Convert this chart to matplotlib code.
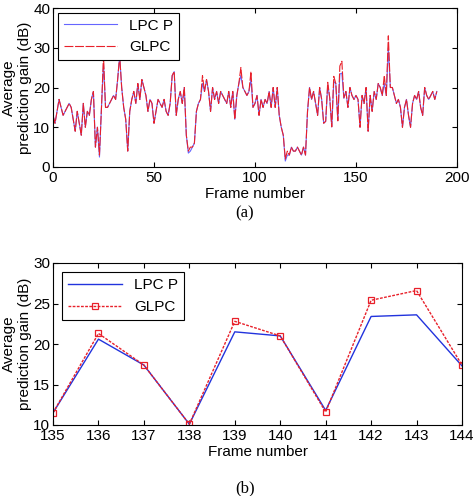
import numpy as np
import matplotlib
matplotlib.use("Agg")
import matplotlib.pyplot as plt

plt.rcParams['font.family'] = ['Liberation Sans', 'DejaVu Sans']

# per-frame average prediction gain (dB)
glpc = [13, 11, 14, 17, 15, 13, 14, 15, 16, 15, 12, 9, 14, 11, 8, 16, 10, 14,
        13, 17, 19, 5, 10, 3, 15, 28, 15, 15, 16, 17, 18, 17, 22, 28, 20, 15, 12, 4,
        14, 17, 19, 16, 21, 17, 22, 20, 18, 14, 17, 16, 11, 14, 17, 16, 15, 17, 14, 13,
        16, 23, 24, 13, 17, 19, 16, 20, 8, 4, 5, 5, 6, 14, 16, 17, 23, 19, 22, 19,
        14, 20, 17, 19, 16, 19, 18, 17, 16, 19, 15, 19, 12, 18, 21, 25, 20, 19, 18, 19,
        24, 15, 16, 18, 13, 17, 15, 17, 16, 19, 15, 20, 15, 20, 13, 10, 8, 2, 4, 3,
        5, 4, 4, 5, 4, 3, 5, 3, 14, 20, 17, 19, 16, 13, 20, 17, 11,
        11.5, 21.3, 17.4, 10.1, 22.8, 21.0, 11.6, 25.4, 26.6, 17.4,
        19, 15, 20, 18, 17, 18, 17, 10, 18, 16, 20, 9, 18, 14, 19, 17, 21, 20, 18, 23,
        18, 33, 20, 20, 18, 16, 17, 15, 10, 15, 17, 13, 10, 16, 18, 17, 19, 15, 13, 20,
        18, 17, 18, 19, 17, 19]
lpc_changes = {23: 2.5, 25: 26, 67: 3.5, 68: 4, 74: 21, 93: 23, 98: 22, 115: 1.5,
               116: 3, 164: 21, 166: 30,
               136: 20.6, 139: 21.5, 141: 11.8, 142: 23.4, 143: 23.6, 144: 17.3}
lpc = list(glpc)
for k, v in lpc_changes.items():
    lpc[k] = v
frames = np.arange(len(glpc))

# zoomed frames 135..144
zoom_frames = np.arange(135, 145)
zoom_lpc = [11.5, 20.6, 17.4, 10.1, 21.5, 21.0, 11.8, 23.4, 23.6, 17.3]
zoom_glpc = [11.5, 21.3, 17.4, 10.1, 22.8, 21.0, 11.6, 25.4, 26.6, 17.4]

fig = plt.figure(figsize=(4.74, 4.96), dpi=100)
W, H = 474, 496

ax1 = fig.add_axes([53 / W, 1 - 167 / H, 404 / W, 159 / H])
ax1.plot(frames, lpc, color='#6666ff', lw=0.8, label='LPC P')
ax1.plot(frames, glpc, color='#e8202a', lw=0.8, dashes=(8, 1.5), label='GLPC')
ax1.set_xlim(0, 200)
ax1.set_ylim(0, 40)
ax1.set_xticks([0, 50, 100, 150, 200])
ax1.set_yticks([0, 10, 20, 30, 40])
ax1.set_xlabel('Frame number', fontsize=11, labelpad=1)
ax1.set_ylabel('Average\nprediction gain (dB)', fontsize=11, labelpad=1)
leg = ax1.legend(loc='upper left', fontsize=11, fancybox=False, framealpha=1,
                 edgecolor='black', handlelength=3.5, borderaxespad=0.3)
leg.get_frame().set_linewidth(0.8)

ax2 = fig.add_axes([53 / W, 1 - 425 / H, 409 / W, 162 / H])
ax2.plot(zoom_frames, zoom_lpc, color='#2233dd', lw=1.0, label='LPC P')
ax2.plot(zoom_frames, zoom_glpc, color='#e8202a', lw=1.0, ls=(0, (2, 1)),
         marker='s', ms=4, mfc='none', mew=0.9, label='GLPC')
ax2.set_xlim(135, 144)
ax2.set_ylim(10, 30)
ax2.set_xticks(zoom_frames)
ax2.set_yticks([10, 15, 20, 25, 30])
ax2.set_xlabel('Frame number', fontsize=11, labelpad=1)
ax2.set_ylabel('Average\nprediction gain (dB)', fontsize=11, labelpad=1)
leg = ax2.legend(loc='upper left', fontsize=11, fancybox=False, framealpha=1,
                 edgecolor='black', handlelength=3.5, borderaxespad=0.6)
leg.get_frame().set_linewidth(0.8)

for ax in (ax1, ax2):
    ax.tick_params(direction='in', top=True, right=True, labelsize=11, pad=2)
    ax.tick_params(axis='x', pad=3)

fig.text(245 / W, 1 - 213 / H, '(a)', ha='center', va='center', fontsize=12,
         family='Liberation Serif')
fig.text(245 / W, 1 - 488 / H, '(b)', ha='center', va='center', fontsize=12,
         family='Liberation Serif')

fig.savefig('out.png', dpi=100)
